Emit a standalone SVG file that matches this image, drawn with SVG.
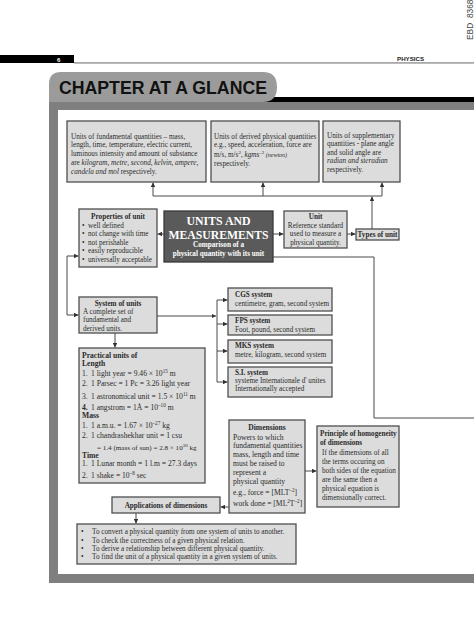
<svg xmlns="http://www.w3.org/2000/svg" width="474" height="632" viewBox="0 0 474 632">
<defs>
<marker id="ah" viewBox="0 0 6 6" refX="6" refY="3" markerWidth="4.5" markerHeight="4.5" markerUnits="userSpaceOnUse" orient="auto">
<path d="M0,0 L6,3 L0,6 Z" fill="#333"/>
</marker>
</defs>
<style>
.box{fill:#dcdcdc;stroke:#4f4f4f;stroke-width:1.3}
.t{font-family:"Liberation Serif","Times New Roman",serif;font-size:7.2px;fill:#2b2b2b}
.m{font-size:7.6px}
.s{font-size:7.1px}
.sup{font-size:5px}
.b{font-weight:bold}
.c{text-anchor:middle}
.i{font-style:italic}
.ln{fill:none;stroke:#4a4a4a;stroke-width:1}
.ar{fill:none;stroke:#4a4a4a;stroke-width:1;marker-end:url(#ah)}
</style>
<rect width="474" height="632" fill="#fff"/>
<!-- header -->
<rect x="0" y="55" width="74" height="8" fill="#000"/>
<text x="57" y="61.5" font-family="Liberation Sans,Arial,sans-serif" font-size="6" font-weight="bold" fill="#fff">6</text>
<rect x="74" y="62.5" width="400" height="0.9" fill="#555"/>
<text x="397" y="61" font-family="Liberation Sans,Arial,sans-serif" font-size="6.2" font-weight="bold" fill="#222">PHYSICS</text>
<text transform="translate(472.5,40) rotate(-90)" font-family="Liberation Sans,Arial,sans-serif" font-size="8.4" fill="#444">EBD_8368</text>
<!-- frame -->
<rect x="262" y="97" width="212" height="6" fill="#000"/>
<rect x="49" y="102" width="440" height="481" fill="#7f7f7f"/>
<rect x="58" y="110" width="430" height="464" fill="#fff"/>
<path d="M49,102 V84 Q49,72 61,72 H263 Q277,72 277,87 Q277,102 263,102 Z" fill="#9b9b9b"/>
<text x="59" y="94" font-family="Liberation Sans,Arial,sans-serif" font-size="18" font-weight="bold" fill="#111" textLength="208" lengthAdjust="spacingAndGlyphs">CHAPTER AT A GLANCE</text>

<g id="connectors">
<path class="ln" d="M153,196 H382"/>
<path class="ar" d="M153,196 V182.5"/>
<path class="ar" d="M263,196 V182.5"/>
<path class="ar" d="M382,196 V182.5"/>
<path class="ar" d="M372,229 V196.5"/>
<path class="ar" d="M164,234 H157.5"/>
<path class="ar" d="M273,234 H283.5"/>
<path class="ar" d="M347,234 H355.5"/>
<path class="ln" d="M273,257 H374 V418 H474"/>
<path class="ar" d="M67,285 V256 H78.5"/>
<path class="ar" d="M67,285 V315 H78.5"/>
<path class="ar" d="M157,316 H216"/>
<path class="ln" d="M217,300 V382"/>
<path class="ar" d="M217,300 H227.5"/>
<path class="ar" d="M217,324 H227.5"/>
<path class="ar" d="M217,351 H227.5"/>
<path class="ar" d="M217,382 H227.5"/>
<path class="ar" d="M115,333 V347.5"/>
<path class="ar" d="M305,471 H316.5"/>
<path class="ar" d="M229,507 H220.5"/>
<path class="ar" d="M136,513 V523.5"/>
</g>

<g id="fundamental">
<rect class="box" x="67" y="121" width="139" height="61"/>
<text class="t" x="71" y="138.5">Units of fundamental quantities – mass,</text>
<text class="t" x="71" y="147.3">length, time, temperature, electric current,</text>
<text class="t" x="71" y="156.1">luminous intensity and amount of substance</text>
<text class="t" x="71" y="164.9">are <tspan class="i">kilogram, metre, second, kelvin, ampere,</tspan></text>
<text class="t" x="71" y="173.7"><tspan class="i">candela and mol</tspan> respectively.</text>
</g>

<g id="derived">
<rect class="box" x="211" y="121" width="108" height="61"/>
<text class="t" x="214" y="138.5">Units of derived physical quantities</text>
<text class="t" x="214" y="147">e.g., speed, acceleration, force are</text>
<text class="t" x="214" y="157">m/s, m/s<tspan dy="-3" font-size="5">2</tspan><tspan dy="3">, </tspan><tspan class="i">kgms</tspan><tspan dy="-3" font-size="5">–2</tspan><tspan dy="3" class="i" font-size="6"> (newton)</tspan></text>
<text class="t" x="214" y="166">respectively.</text>
</g>

<g id="supplementary">
<rect class="box" x="323" y="121" width="77" height="61"/>
<text class="t" x="327" y="137.5">Units of supplementary</text>
<text class="t" x="327" y="146">quantities - plane angle</text>
<text class="t" x="327" y="154.5">and solid angle are</text>
<text class="t i" x="327" y="163">radian and steradian</text>
<text class="t" x="327" y="171.5">respectively.</text>
</g>

<g id="properties">
<rect class="box" x="79" y="209" width="78" height="58"/>
<text class="t b c" x="118" y="218.5">Properties of unit</text>
<g class="t">
<text x="82" y="227.5">•</text><text x="88" y="227.5">well defined</text>
<text x="82" y="236">•</text><text x="88" y="236">not change with time</text>
<text x="82" y="244.5">•</text><text x="88" y="244.5">not perishable</text>
<text x="82" y="253">•</text><text x="88" y="253">easily reproducible</text>
<text x="82" y="261.5">•</text><text x="88" y="261.5">universally acceptable</text>
</g>
</g>

<g id="central">
<rect x="164" y="211" width="109" height="51" fill="#5a5a5a" stroke="#3a3a3a" stroke-width="1.3"/>
<text class="c" x="218.5" y="225" font-family="Liberation Serif,Times New Roman,serif" font-size="13.5" font-weight="bold" fill="#fff" textLength="64" lengthAdjust="spacingAndGlyphs">UNITS AND</text>
<text class="c" x="218.5" y="238.5" font-family="Liberation Serif,Times New Roman,serif" font-size="13.5" font-weight="bold" fill="#fff" textLength="100" lengthAdjust="spacingAndGlyphs">MEASUREMENTS</text>
<text class="t b c" x="218.5" y="246.5" style="fill:#fff">Comparison of a</text>
<text class="t b c" x="218.5" y="255.5" style="fill:#fff">physical quantity with its unit</text>
</g>

<g id="unit">
<rect class="box" x="284" y="211" width="63" height="37"/>
<text class="t b c" x="315.5" y="219">Unit</text>
<text class="t c" x="315.5" y="227.5">Reference standard</text>
<text class="t c" x="315.5" y="236">used to measure a</text>
<text class="t c" x="315.5" y="244.5">physical quantity.</text>
</g>

<g id="types">
<rect class="box" x="356" y="229" width="43" height="11"/>
<text class="t b c" x="377.5" y="237">Types of unit</text>
</g>

<g id="system">
<rect class="box" x="79" y="297" width="78" height="36"/>
<text class="t b c" x="118" y="305.5">System of units</text>
<text class="t" x="83" y="313.5">A complete set of</text>
<text class="t" x="83" y="322">fundamental and</text>
<text class="t" x="83" y="330.5">derived units.</text>
</g>

<g id="cgs">
<rect class="box" x="228" y="288" width="104" height="23"/>
<text class="t b" x="235" y="296.5">CGS system</text>
<text class="t" x="235" y="305.5">centimetre, gram, second system</text>
</g>
<g id="fps">
<rect class="box" x="228" y="315" width="104" height="20"/>
<text class="t b" x="235" y="322.5">FPS system</text>
<text class="t" x="235" y="331.5">Foot, pound, second system</text>
</g>
<g id="mks">
<rect class="box" x="228" y="340" width="104" height="23"/>
<text class="t b" x="235" y="347.5">MKS system</text>
<text class="t" x="235" y="356.5">metre, kilogram, second system</text>
</g>
<g id="si">
<rect class="box" x="228" y="367" width="104" height="30"/>
<text class="t b" x="235" y="374.5">S.I. system</text>
<text class="t" x="235" y="382.5">systeme Internationale d' unites</text>
<text class="t" x="235" y="390.5">Internationally accepted</text>
</g>

<g id="practical">
<rect class="box" x="79" y="348" width="126" height="135"/>
<g class="t m">
<text class="b" x="82" y="357.5">Practical units of</text>
<text class="b" x="82" y="365.5">Length</text>
<text x="82" y="376">1.</text><text x="91" y="376">1 light year = 9.46 × 10<tspan dy="-3" font-size="5.2">15</tspan><tspan dy="3"> m</tspan></text>
<text x="82" y="386">2.</text><text x="91" y="386">1 Parsec = 1 Pc = 3.26 light year</text>
<text x="82" y="398.5">3.</text><text x="91" y="398.5">1 astronomical unit = 1.5 × 10<tspan dy="-3" font-size="5.2">11</tspan><tspan dy="3"> m</tspan></text>
<text class="b" x="82" y="409.5">4.</text><text x="91" y="409.5">1 angstrom = 1Å = 10<tspan dy="-3" font-size="5.2">–10</tspan><tspan dy="3"> m</tspan></text>
<text class="b" x="82" y="418">Mass</text>
<text x="82" y="428">1.</text><text x="91" y="428">1 a.m.u. = 1.67 × 10<tspan dy="-3" font-size="5.2">–27</tspan><tspan dy="3"> kg</tspan></text>
<text x="82" y="437.5">2.</text><text x="91" y="437.5">1 chandrashekhar unit = 1 csu</text>
</g>
<text class="t s" x="97" y="450">= 1.4 (mass of sun) = 2.8 × 10<tspan class="sup" dy="-3">30</tspan><tspan dy="3"> kg</tspan></text>
<g class="t m">
<text class="b" x="82" y="457.5">Time</text>
<text x="82" y="466">1.</text><text x="91" y="466">1 Lunar month = 1 l.m = 27.3 days</text>
<text x="82" y="478">2.</text><text x="91" y="478">1 shake = 10<tspan dy="-3" font-size="5.2">–8</tspan><tspan dy="3"> sec</tspan></text>
</g>
</g>

<g id="dimensions">
<rect class="box" x="229" y="420" width="76" height="93"/>
<g class="t m">
<text class="b c" x="267" y="429.5">Dimensions</text>
<text x="233" y="439.5">Powers to which</text>
<text x="233" y="448.3">fundamental quantities</text>
<text x="233" y="457.1">mass, length and time</text>
<text x="233" y="465.9">must be raised to</text>
<text x="233" y="474.7">represent a</text>
<text x="233" y="483.5">physical quantity</text>
<text x="233" y="494.5">e.g., force = [MLT<tspan dy="-3" font-size="5.2">–2</tspan><tspan dy="3">]</tspan></text>
<text x="233" y="506">work done = [ML<tspan dy="-3" font-size="5.2">2</tspan><tspan dy="3">T</tspan><tspan dy="-3" font-size="5.2">–2</tspan><tspan dy="3">]</tspan></text>
</g>
</g>

<g id="principle">
<rect class="box" x="317" y="426" width="82" height="81"/>
<text class="t b" x="320" y="435.5">Principle of homogeneity</text>
<text class="t b" x="320" y="444.5">of dimensions</text>
<text class="t" x="322" y="455">If the dimensions of all</text>
<text class="t" x="322" y="464">the terms occuring on</text>
<text class="t" x="322" y="473">both sides of the equation</text>
<text class="t" x="322" y="482">are the same then a</text>
<text class="t" x="322" y="491">physical equation is</text>
<text class="t" x="322" y="500">dimensionally correct.</text>
</g>

<g id="applications">
<rect class="box" x="112" y="497" width="108" height="16"/>
<text class="t b c" x="166" y="507.5">Applications of dimensions</text>
</g>

<g id="uses">
<rect class="box" x="77" y="524" width="219" height="40"/>
<text class="t" x="81" y="534">•</text>
<text class="t" x="92" y="534">To convert a physical quantity from one system of units to another.</text>
<text class="t" x="81" y="542.5">•</text>
<text class="t" x="92" y="542.5">To check the correctness of a given physical relation.</text>
<text class="t" x="81" y="550.5">•</text>
<text class="t" x="92" y="550.5">To derive a relationship between different physical quantity.</text>
<text class="t" x="81" y="559">•</text>
<text class="t" x="92" y="559">To find the unit of a physical quantity in a given system of units.</text>
</g>
</svg>
